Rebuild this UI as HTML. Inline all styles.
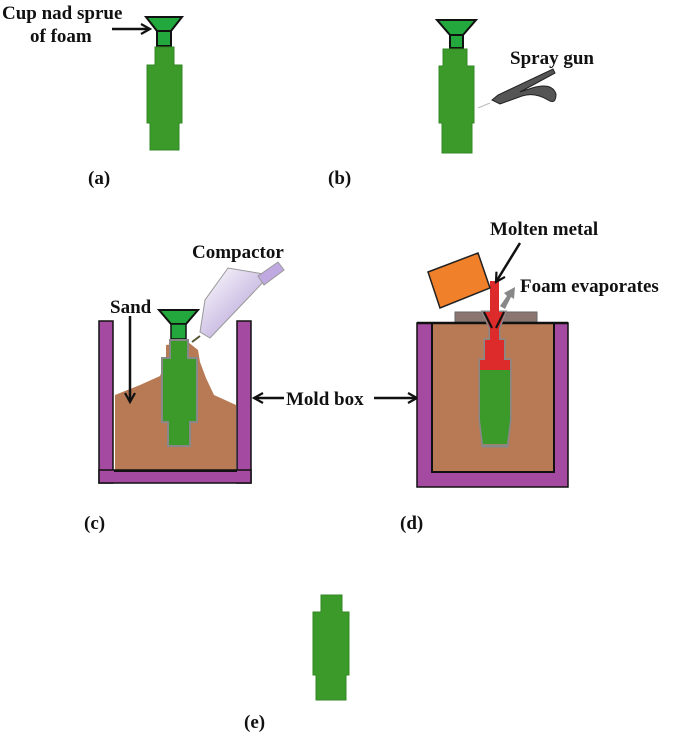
<!DOCTYPE html>
<html><head><meta charset="utf-8"><style>
html,body{margin:0;padding:0;background:#fff;}
svg{display:block;}
text{font-family:"Liberation Serif",serif;font-weight:bold;fill:#111;}
</style></head><body>
<svg width="685" height="736" viewBox="0 0 685 736" xmlns="http://www.w3.org/2000/svg">
<defs>
<marker id="ah" markerWidth="12" markerHeight="12" refX="10" refY="6" orient="auto" markerUnits="userSpaceOnUse">
<path d="M1,1 L10,6 L1,11" fill="none" stroke="#111" stroke-width="2.2"/>
</marker>
<linearGradient id="cg" x1="0" y1="0" x2="1" y2="1"><stop offset="0" stop-color="#fff"/><stop offset="1" stop-color="#a890d0"/></linearGradient>
</defs>

<!-- (a) -->
<text x="2" y="19" font-size="19">Cup nad sprue</text>
<text x="30" y="42" font-size="19">of foam</text>
<line x1="112" y1="29" x2="150" y2="29" stroke="#111" stroke-width="2.5" marker-end="url(#ah)"/>
<path d="M146,17 L182,17 L171,31 L157,31 Z" fill="#22a83c" stroke="#111" stroke-width="2"/>
<rect x="157" y="31" width="14" height="15" fill="#22a83c" stroke="#111" stroke-width="2"/>
<path d="M155,47 L174,47 L174,65 L182,65 L182,123 L179,123 L179,150 L150,150 L150,123 L147,123 L147,65 L155,65 Z" fill="#3c9a2a" stroke="#2f8a22" stroke-width="1"/>
<text x="88" y="184" font-size="19">(a)</text>

<!-- (b) -->
<path d="M437,20 L476,20 L463,35 L450,35 Z" fill="#22a83c" stroke="#111" stroke-width="2"/>
<rect x="450" y="35" width="13" height="13" fill="#22a83c" stroke="#111" stroke-width="2"/>
<path d="M443,49 L467,49 L467,66 L474,66 L474,123 L472,123 L472,153 L442,153 L442,123 L439,123 L439,66 L443,66 Z" fill="#3c9a2a" stroke="#2f8a22" stroke-width="1"/>
<text x="510" y="64" font-size="19">Spray gun</text>
<path d="M492,100 L498,95 L553,69 L555,73 L520,92 L532,88 Q552,82 556,94 Q556,105 548,100 Q535,92 522,96 L500,104 Z" fill="#555" stroke="#222" stroke-width="1"/>
<line x1="478" y1="108" x2="490" y2="103" stroke="#bbb" stroke-width="1"/>
<text x="328" y="184" font-size="19">(b)</text>

<!-- (c) -->
<text x="192" y="258" font-size="19">Compactor</text>
<text x="110" y="313" font-size="19">Sand</text>
<path d="M115,395 L140,385 L160,376 L166,360 L166,345 L188,342 L198,350 L200,362 L206,378 L214,395 L236,405 L236,470 L115,470 Z" fill="#b87a55"/>
<rect x="99" y="321" width="14" height="162" fill="#a44aa0" stroke="#111" stroke-width="1.5"/>
<rect x="237" y="321" width="14" height="162" fill="#a44aa0" stroke="#111" stroke-width="1.5"/>
<rect x="99" y="470" width="152" height="13" fill="#a44aa0" stroke="#111" stroke-width="1.5"/>
<line x1="114" y1="471" x2="237" y2="471" stroke="#111" stroke-width="2"/>
<line x1="130" y1="316" x2="130" y2="402" stroke="#111" stroke-width="2.5" marker-end="url(#ah)"/>
<path d="M159,310 L198,310 L186,324 L171,324 Z" fill="#22a83c" stroke="#111" stroke-width="2"/>
<rect x="171" y="324" width="15" height="15" fill="#22a83c" stroke="#111" stroke-width="1.5"/>
<path d="M170,340 L188,340 L188,358 L197,358 L197,422 L190,422 L190,446 L168,446 L168,422 L162,422 L162,358 L170,358 Z" fill="#3c9a2a" stroke="#888" stroke-width="2"/>
<path d="M200,332 L205,300 L228,268 L270,275 L210,338 Z" fill="url(#cg)" stroke="#999" stroke-width="1"/>
<path d="M258,276 L278,262 L284,270 L264,285 Z" fill="#c0a8e0" stroke="#999" stroke-width="1"/>
<line x1="200" y1="336" x2="192" y2="342" stroke="#553" stroke-width="2"/>
<text x="286" y="405" font-size="19">Mold box</text>
<line x1="284" y1="398" x2="254" y2="398" stroke="#111" stroke-width="2.5" marker-end="url(#ah)"/>
<line x1="374" y1="398" x2="417" y2="398" stroke="#111" stroke-width="2.5" marker-end="url(#ah)"/>
<text x="84" y="529" font-size="19">(c)</text>

<!-- (d) -->
<rect x="417" y="323" width="151" height="164" fill="#a44aa0" stroke="#111" stroke-width="1.5"/>
<rect x="432" y="323" width="122" height="149" fill="#b87a55" stroke="#111" stroke-width="2"/>
<rect x="455" y="312" width="82" height="10" fill="#8a7570" stroke="#666" stroke-width="1"/>
<line x1="417" y1="323" x2="568" y2="323" stroke="#111" stroke-width="2.5"/>
<path d="M483,312 L505,312 L499,328 L499,340 L504,340 L504,360 L510,360 L510,420 L507,446 L483,446 L480,420 L480,360 L485,360 L485,340 L490,340 L490,328 Z" fill="none" stroke="#888" stroke-width="3"/>
<path d="M480,370 L510,370 L510,420 L507,444 L483,444 L480,420 Z" fill="#3c9a2a"/>
<path d="M490,281 L499,281 L499,312 L505,312 L499,328 L499,340 L504,340 L504,360 L510,360 L510,370 L480,370 L480,360 L485,360 L485,340 L490,340 L490,328 L483,312 L490,312 Z" fill="#dd2a2a"/>
<line x1="484" y1="312" x2="492" y2="328" stroke="#111" stroke-width="2"/>
<line x1="504" y1="312" x2="496" y2="328" stroke="#111" stroke-width="2"/>
<path d="M428,272 L478,253 L490,288 L440,308 Z" fill="#f0802a" stroke="#222" stroke-width="1.5"/>
<text x="490" y="235" font-size="19">Molten metal</text>
<line x1="520" y1="243" x2="496" y2="282" stroke="#111" stroke-width="2.5" marker-end="url(#ah)"/>
<text x="520" y="292" font-size="19">Foam evaporates</text>
<path d="M500,306 L507,296 L504,293 L515,287 L514,299 L511,297 L505,309 Z" fill="#888"/>
<text x="400" y="529" font-size="19">(d)</text>

<!-- (e) -->
<path d="M321,595 L342,595 L342,612 L349,612 L349,675 L346,675 L346,700 L316,700 L316,675 L313,675 L313,612 L321,612 Z" fill="#3c9a2a" stroke="#2f8a22" stroke-width="1"/>
<text x="244" y="728" font-size="19">(e)</text>
</svg>
</body></html>
